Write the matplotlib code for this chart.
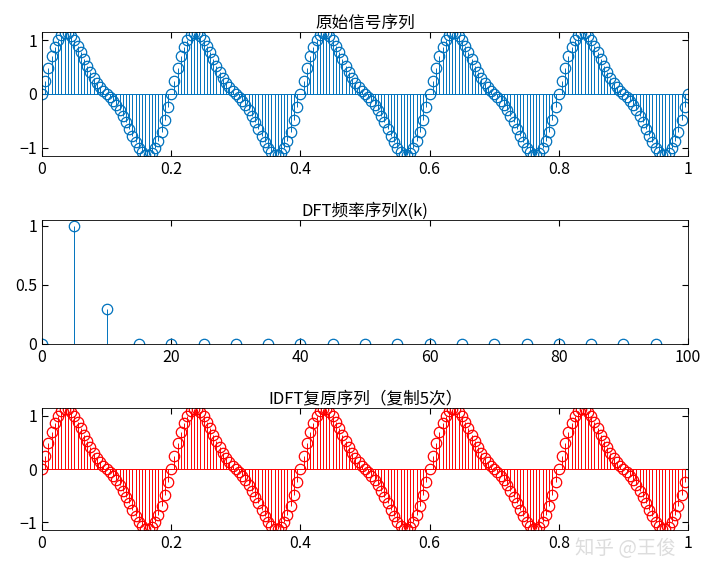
import numpy as np
import matplotlib
matplotlib.use("Agg")
import matplotlib.pyplot as plt

plt.rcParams['font.family'] = ['Noto Sans CJK SC', 'DejaVu Sans']

fs = 200
comp_freqs = [5, 10]
comp_amps = [1.0, 0.3]
dft_k = [0, 5, 10, 15, 20, 25, 30, 35, 40, 45, 50, 55, 60, 65, 70, 75, 80, 85, 90, 95]
dft_mag = [0, 1, 0.3, 0, 0, 0, 0, 0, 0, 0, 0, 0, 0, 0, 0, 0, 0, 0, 0, 0]

t1 = np.arange(0, 201) / fs
x1 = sum(a * np.sin(2 * np.pi * f * t1) for f, a in zip(comp_freqs, comp_amps))
t3 = np.arange(0, 200) / fs
x3 = sum(a * np.sin(2 * np.pi * f * t3) for f, a in zip(comp_freqs, comp_amps))

W, H = 714, 580
fig = plt.figure(figsize=(W / 100, H / 100), dpi=100)
fig.patch.set_facecolor('white')

def ax_at(x0, y0, x1_, y1_):
    return fig.add_axes([x0 / W, 1 - y1_ / H, (x1_ - x0) / W, (y1_ - y0) / H])

blue = '#0072BD'

def stem(ax, x, y, c, ms):
    ml, sl, bl = ax.stem(x, y, linefmt='-', markerfmt='o', basefmt='-')
    plt.setp(sl, color=c, linewidth=0.7)
    plt.setp(ml, markerfacecolor='none', markeredgecolor=c, markersize=ms, markeredgewidth=0.9)
    plt.setp(bl, color=c, linewidth=0.7)

def style(ax, title):
    ax.set_title(title, fontsize=12, fontweight='medium', pad=3)
    ax.tick_params(direction='in', labelsize=11.5, length=4, top=True, right=True,
                   labeltop=False, labelright=False)
    for s in ax.spines.values():
        s.set_linewidth(0.6)

a1 = ax_at(42, 32, 688, 156)
stem(a1, t1, x1, blue, 7.5)
a1.set_xlim(0, 1); a1.set_ylim(-1.15, 1.15)
a1.set_xticks([0, 0.2, 0.4, 0.6, 0.8, 1]); a1.set_xticklabels(['0', '0.2', '0.4', '0.6', '0.8', '1'])
a1.set_yticks([-1, 0, 1])
style(a1, '原始信号序列')

a2 = ax_at(42, 220, 688, 344)
stem(a2, dft_k, dft_mag, blue, 7.5)
a2.set_xlim(0, 100); a2.set_ylim(0, 1.05)
a2.set_xticks([0, 20, 40, 60, 80, 100])
a2.set_yticks([0, 0.5, 1]); a2.set_yticklabels(['0', '0.5', '1'])
style(a2, 'DFT频率序列X(k)')

a3 = ax_at(42, 408, 688, 530)
stem(a3, t3, x3, 'red', 7.5)
a3.set_xlim(0, 1); a3.set_ylim(-1.15, 1.15)
a3.set_xticks([0, 0.2, 0.4, 0.6, 0.8, 1]); a3.set_xticklabels(['0', '0.2', '0.4', '0.6', '0.8', '1'])
a3.set_yticks([-1, 0, 1])
style(a3, 'IDFT复原序列（复制5次）')

fig.text(625 / W, 1 - 548 / H, '知乎 @王俊', ha='center', va='center', fontsize=14, color='#dddddd')

fig.savefig('out.png', dpi=100, facecolor=fig.get_facecolor())
